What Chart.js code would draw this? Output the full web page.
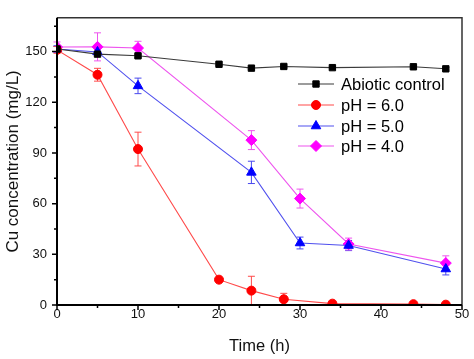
<!DOCTYPE html>
<html><head><meta charset="utf-8">
<script src="https://cdn.jsdelivr.net/npm/chart.js@4/dist/chart.umd.min.js"></script>
<style>html,body{margin:0;padding:0;background:#fff}#wrap{width:474px;height:359px}</style>
</head><body><div id="wrap"><canvas id="c" width="474" height="359"></canvas></div>
<script>
const seriesNames = ['Abiotic control', 'pH = 6.0', 'pH = 5.0', 'pH = 4.0'];
const timeAbiotic = [0, 5, 10, 20, 24, 28, 34, 44, 48];
const cuAbiotic   = [151.5, 148.5, 147.5, 142.5, 140.2, 141.2, 140.5, 141, 139.8];
const errAbiotic  = [1.5, 1, 1, 0.8, 0.8, 0.8, 0.8, 0.8, 0.8];
const timePH6 = [0, 5, 10, 20, 24, 28, 34, 44, 48];
const cuPH6   = [151, 136.3, 92.3, 15, 8.5, 3.4, 0.8, 0.5, 0.2];
const errPH6  = [2, 3.8, 10, 0.8, 8.5, 3.5, 0.5, 0.5, 0.3];
const timePH5 = [0, 5, 10, 24, 30, 36, 48];
const cuPH5   = [151.5, 149.8, 129.7, 78.5, 36.7, 35.2, 21.3];
const errPH5  = [2, 1.5, 4.6, 6.6, 3.5, 3, 3.5];
const timePH4 = [0, 5, 10, 24, 30, 36, 48];
const cuPH4   = [152.7, 152.8, 152.1, 97.6, 63, 36.1, 24.8];
const errPH4  = [3, 8.3, 4, 5.6, 5.6, 3.5, 4.3];
const xTicks = [0, 10, 20, 30, 40, 50];
const yTicks = [0, 30, 60, 90, 120, 150];

const pts = (xs, ys) => xs.map((x, i) => ({x: x, y: ys[i]}));
const FONT = "'Liberation Sans', Arial, sans-serif";

const styles = [
  {line: '#3a3a3a', mark: '#000000', err: '#555555', shape: 'rect', r: 4.5},
  {line: '#ff4a4a', mark: '#ff0000', err: '#ff4a4a', shape: 'circle', r: 4.5},
  {line: '#5050ee', mark: '#0000ff', err: '#4848ee', shape: 'triangle', r: 5.5},
  {line: '#ee55ee', mark: '#ff00ff', err: '#ee55ee', shape: 'rectRot', r: 5.5}
];
const rawSets = [
  [timeAbiotic, cuAbiotic, errAbiotic],
  [timePH6, cuPH6, errPH6],
  [timePH5, cuPH5, errPH5],
  [timePH4, cuPH4, errPH4]
];
const datasets = rawSets.map((s, i) => ({
  label: seriesNames[i],
  data: pts(s[0], s[1]),
  errors: s[2],
  borderColor: styles[i].line,
  backgroundColor: styles[i].mark,
  pointBackgroundColor: styles[i].mark,
  pointBorderColor: styles[i].mark,
  pointStyle: styles[i].shape,
  pointRadius: styles[i].r,
  borderWidth: 1.1,
  pointBorderWidth: 1,
  errColor: styles[i].err,
  tension: 0
}));

const errorBars = {
  id: 'errorBars',
  beforeDatasetsDraw(chart) {
    const ctx = chart.ctx, xs = chart.scales.x, ys = chart.scales.y;
    ctx.save();
    chart.data.datasets.forEach(ds => {
      ctx.strokeStyle = ds.errColor; ctx.lineWidth = 1;
      ds.data.forEach((p, i) => {
        const e = ds.errors[i]; if (!e) return;
        const px = xs.getPixelForValue(p.x);
        const y1 = ys.getPixelForValue(p.y + e), y2 = ys.getPixelForValue(p.y - e);
        ctx.beginPath();
        ctx.moveTo(px, y1); ctx.lineTo(px, y2);
        ctx.moveTo(px - 3.5, y1); ctx.lineTo(px + 3.5, y1);
        ctx.moveTo(px - 3.5, y2); ctx.lineTo(px + 3.5, y2);
        ctx.stroke();
      });
    });
    ctx.restore();
  }
};

const frameTicks = {
  id: 'frameTicks',
  afterDraw(chart) {
    const ctx = chart.ctx, a = chart.chartArea, xs = chart.scales.x, ys = chart.scales.y;
    ctx.save();
    ctx.strokeStyle = '#000'; ctx.lineWidth = 1.5;
    ctx.beginPath();
    for (let v = 0; v <= 50; v += 5) {
      const px = xs.getPixelForValue(v);
      const len = (v % 10 === 0) ? 5 : 3;
      ctx.moveTo(px, a.bottom); ctx.lineTo(px, a.bottom + len);
    }
    for (let v = 0; v <= 165; v += 15) {
      const py = ys.getPixelForValue(v);
      const len = (v % 30 === 0) ? 5 : 3;
      ctx.moveTo(a.left, py); ctx.lineTo(a.left - len, py);
    }
    ctx.stroke();
    ctx.strokeStyle = '#333'; ctx.lineWidth = 1.5;
    ctx.beginPath();
    ctx.moveTo(a.left, a.top); ctx.lineTo(a.right, a.top); ctx.lineTo(a.right, a.bottom);
    ctx.stroke();
    ctx.strokeStyle = '#000'; ctx.lineWidth = 2;
    ctx.beginPath();
    ctx.moveTo(a.left, a.top); ctx.lineTo(a.left, a.bottom); ctx.lineTo(a.right, a.bottom);
    ctx.stroke();

    // legend
    const lx0 = 298, lx1 = 334, tx = 341;
    const rows = [84, 105, 126, 146];
    ctx.font = '16.5px ' + FONT; ctx.textBaseline = 'middle'; ctx.textAlign = 'left';
    chart.data.datasets.forEach((ds, i) => {
      const y = rows[i];
      ctx.strokeStyle = ds.borderColor; ctx.lineWidth = 1.1;
      ctx.beginPath(); ctx.moveTo(lx0, y); ctx.lineTo(lx1, y); ctx.stroke();
      ctx.fillStyle = ds.pointBackgroundColor; ctx.strokeStyle = ds.pointBorderColor; ctx.lineWidth = 1;
      Chart.helpers.drawPoint(ctx, {pointStyle: ds.pointStyle, radius: ds.pointRadius, borderWidth: 1, rotation: 0}, (lx0 + lx1) / 2, y);
      ctx.fillStyle = '#000';
      ctx.fillText(ds.label, tx, y + 1);
    });
    ctx.restore();
  }
};

new Chart(document.getElementById('c'), {
  type: 'line',
  data: {datasets: datasets},
  plugins: [errorBars, frameTicks],
  options: {
    responsive: false, animation: false,
    layout: {padding: {top: 4, right: 12, left: 0, bottom: 0}},
    plugins: {legend: {display: false}, tooltip: {enabled: false}},
    scales: {
      x: {
        type: 'linear', min: 0, max: 50,
        afterBuildTicks: s => { s.ticks = xTicks.map(v => ({value: v})); },
        afterFit: s => { s.height = 54; },
        grid: {display: false, drawTicks: false},
        border: {display: false},
        ticks: {color: '#111', font: {family: FONT, size: 13}, padding: 2, maxRotation: 0},
        title: {display: true, text: 'Time (h)', color: '#111', font: {family: FONT, size: 16.5}, padding: {top: 0, bottom: 3}}
      },
      y: {
        type: 'linear', min: 0, max: 170,
        afterBuildTicks: s => { s.ticks = yTicks.map(v => ({value: v})); },
        afterFit: s => { s.width = 57; },
        grid: {display: false, drawTicks: false},
        border: {display: false},
        ticks: {color: '#111', font: {family: FONT, size: 13}, padding: 10},
        title: {display: true, text: 'Cu concentration (mg/L)', color: '#111', font: {family: FONT, size: 17}, padding: {top: 3, bottom: 0}}
      }
    }
  }
});
</script></body></html>
